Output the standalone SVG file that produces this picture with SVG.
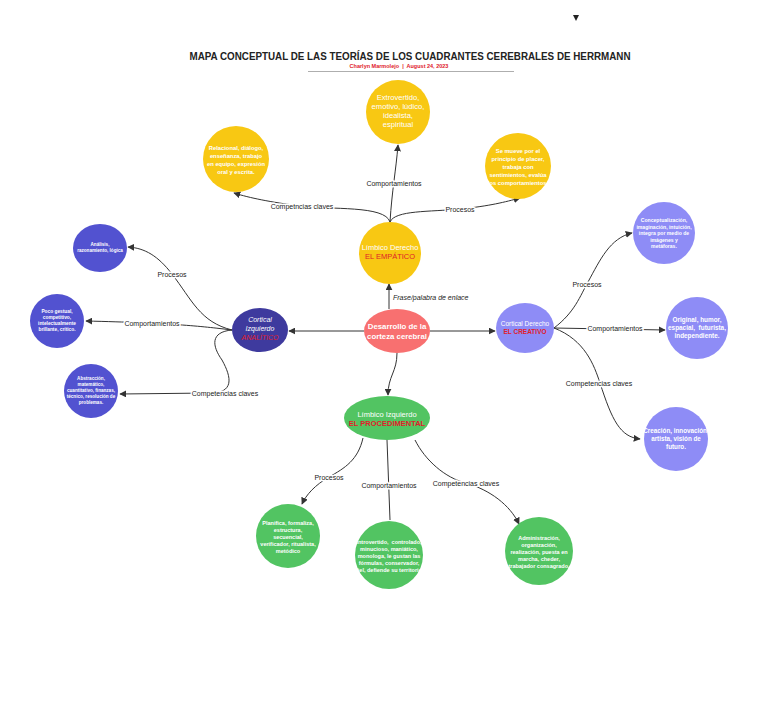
<svg xmlns="http://www.w3.org/2000/svg" width="768" height="704" viewBox="0 0 768 704">
<defs>
<marker id="ar" viewBox="0 0 10 10" refX="9" refY="5" markerWidth="7" markerHeight="7" orient="auto" markerUnits="userSpaceOnUse">
<path d="M0,0 L10,5 L0,10 z" fill="#333"/>
</marker>
</defs>
<style>
text{font-family:"Liberation Sans",Arial,sans-serif;text-anchor:middle}
.c{fill:none;stroke:#333;stroke-width:1}
.lbl{font-size:7px;fill:#222;stroke:#fff;stroke-width:3px;paint-order:stroke;stroke-linejoin:round}
.w{fill:#fff}
.b{font-weight:bold}
.r{fill:#e0202a}
.yel{fill:#F8C813}
.blu{fill:#5252D0}
.dblu{fill:#3E3A9E}
.pur{fill:#8E8CF6}
.grn{fill:#52C462}
.red{fill:#F87070}
</style>
<rect width="768" height="704" fill="#fff"/>
<path d="M573 15 L579 15 L576 21 z" fill="#222"/>
<g id="title">
<text x="410" y="60" font-family="DejaVu Sans, sans-serif" font-weight="bold" font-size="10.5" fill="#222" textLength="441" lengthAdjust="spacingAndGlyphs">MAPA CONCEPTUAL DE LAS TEORÍAS DE LOS CUADRANTES CEREBRALES DE HERRMANN</text>
<text x="399" y="68" font-size="5.5" font-weight="bold" fill="#e0202a" xml:space="preserve">Charlyn Marmolejo  |  August 24, 2023</text>
<line x1="308" y1="71.5" x2="514" y2="71.5" stroke="#999" stroke-width="0.8"/>
</g>
<g id="connectors">
<path class="c" d="M389 309 L389 284" marker-end="url(#ar)"/>
<path class="c" d="M364 331 L289 331" marker-end="url(#ar)"/>
<path class="c" d="M430 331 L495 331" marker-end="url(#ar)"/>
<path class="c" d="M397 353 C397 372 388 376 388 395" marker-end="url(#ar)"/>
<path class="c" d="M390 222 C392 190 396 170 398 145" marker-end="url(#ar)"/>
<path class="c" d="M390 222 C385 205 330 210 300 206 C270 202 250 198 234 193" marker-end="url(#ar)"/>
<path class="c" d="M390 222 C395 210 430 212 460 209 C490 206 505 202 520 198" marker-end="url(#ar)"/>
<path class="c" d="M232 330 C200 322 192 300 172 274 C158 256 145 248 128 247" marker-end="url(#ar)"/>
<path class="c" d="M232 330 C200 326 170 323 86 321" marker-end="url(#ar)"/>
<path class="c" d="M232 330 C210 332 212 346 222 360 C232 378 234 393 210 393 L120 394" marker-end="url(#ar)"/>
<path class="c" d="M554 328 C575 312 580 296 588 282 C600 260 610 238 632 233" marker-end="url(#ar)"/>
<path class="c" d="M554 328 L665 330" marker-end="url(#ar)"/>
<path class="c" d="M554 328 C585 340 594 365 600 383 C612 420 620 437 640 439" marker-end="url(#ar)"/>
<path class="c" d="M363 438 C358 460 345 468 329 477 C315 485 306 495 302 504" marker-end="url(#ar)"/>
<path class="c" d="M387 440 L390 520"/>
<path class="c" d="M415 440 C425 460 445 478 466 483 C490 490 510 505 519 524" marker-end="url(#ar)"/>
<text class="lbl" x="393" y="300" font-style="italic" style="text-anchor:start" font-size="6.5">Frase/palabra de enlace</text>
<text class="lbl" x="394" y="186">Comportamientos</text>
<text class="lbl" x="302" y="209">Competncias claves</text>
<text class="lbl" x="460" y="212">Procesos</text>
<text class="lbl" x="172" y="277">Procesos</text>
<text class="lbl" x="152" y="326">Comportamientos</text>
<text class="lbl" x="225" y="396">Competencias claves</text>
<text class="lbl" x="587" y="287">Procesos</text>
<text class="lbl" x="615" y="331">Comportamientos</text>
<text class="lbl" x="599" y="386">Competencias claves</text>
<text class="lbl" x="329" y="480">Procesos</text>
<text class="lbl" x="389" y="488">Comportamientos</text>
<text class="lbl" x="466" y="486">Competencias claves</text>
</g>
<g id="n-center">
<ellipse class="red" cx="397" cy="331" rx="33" ry="22"/>
<text class="w b" x="397" y="329" font-size="7.8">Desarrollo de la</text>
<text class="w b" x="397" y="339" font-size="7.8">corteza cerebral</text>
</g>
<g id="n-limbico-derecho">
<circle class="yel" cx="390" cy="253" r="31"/>
<text class="w" x="390" y="250" font-size="7.5">Límbico Derecho</text>
<text class="r" x="390" y="259" font-size="7.5">EL EMPÁTICO</text>
</g>
<g id="n-extrovertido">
<circle class="yel" cx="398" cy="112" r="32"/>
<text class="w" x="398" y="100" font-size="7.6">Extrovertido,</text>
<text class="w" x="398" y="109" font-size="7.6">emotivo, lúdico,</text>
<text class="w" x="398" y="118" font-size="7.6">idealista,</text>
<text class="w" x="398" y="127" font-size="7.6">espiritual</text>
</g>
<g id="n-relacional">
<circle class="yel" cx="236" cy="159" r="33"/>
<text class="w b" x="236" y="150" font-size="5.8">Relacional, diálogo,</text>
<text class="w b" x="236" y="158" font-size="5.8">enseñanza, trabajo</text>
<text class="w b" x="236" y="166" font-size="5.8">en equipo, expresión</text>
<text class="w b" x="236" y="174" font-size="5.8">oral y escrita.</text>
</g>
<g id="n-semueve">
<circle class="yel" cx="518" cy="166" r="33"/>
<text class="w b" x="518" y="153" font-size="5.8">Se mueve por el</text>
<text class="w b" x="518" y="161" font-size="5.8">principio de placer,</text>
<text class="w b" x="518" y="169" font-size="5.8">trabaja con</text>
<text class="w b" x="518" y="177" font-size="5.8">sentimientos, evalúa</text>
<text class="w b" x="518" y="185" font-size="5.8">los comportamientos.</text>
</g>
<g id="n-cortical-izquierdo">
<ellipse class="dblu" cx="260" cy="330" rx="28" ry="22"/>
<text class="w" x="260" y="322" font-size="7" font-style="italic">Cortical</text>
<text class="w" x="260" y="331" font-size="7" font-style="italic">Izquierdo</text>
<text class="r" x="260" y="340" font-size="7" font-style="italic">ANALÍTICO</text>
</g>
<g id="n-analisis">
<ellipse class="blu" cx="100" cy="248" rx="27" ry="24"/>
<text class="w b" x="100" y="246" font-size="4.6">Análisis,</text>
<text class="w b" x="100" y="252" font-size="4.6">razonamiento, lógica</text>
</g>
<g id="n-poco">
<circle class="blu" cx="57" cy="321" r="27"/>
<text class="w b" x="57" y="313" font-size="4.8">Poco gestual,</text>
<text class="w b" x="57" y="319" font-size="4.8">competitivo,</text>
<text class="w b" x="57" y="325" font-size="4.8">intelectualmente</text>
<text class="w b" x="57" y="331" font-size="4.8">brillante, crítico.</text>
</g>
<g id="n-abstraccion">
<circle class="blu" cx="91" cy="391" r="27"/>
<text class="w b" x="91" y="380" font-size="4.6">Abstracción,</text>
<text class="w b" x="91" y="386" font-size="4.6">matemático,</text>
<text class="w b" x="91" y="392" font-size="4.6">cuantitativo, finanzas,</text>
<text class="w b" x="91" y="398" font-size="4.6">técnico, resolución de</text>
<text class="w b" x="91" y="404" font-size="4.6">problemas.</text>
</g>
<g id="n-cortical-derecho">
<ellipse class="pur" cx="525" cy="328" rx="29" ry="25"/>
<text class="w" x="525" y="326" font-size="6.5">Cortical Derecho</text>
<text class="r b" x="525" y="334" font-size="6.5">EL CREATIVO</text>
</g>
<g id="n-conceptualizacion">
<circle class="pur" cx="664" cy="233" r="31"/>
<text class="w b" x="664" y="222" font-size="5.1">Conceptualización,</text>
<text class="w b" x="664" y="228.5" font-size="5.1">imaginación, intuición,</text>
<text class="w b" x="664" y="235" font-size="5.1">integra por medio de</text>
<text class="w b" x="664" y="241.5" font-size="5.1">imágenes y</text>
<text class="w b" x="664" y="248" font-size="5.1">metáforas.</text>
</g>
<g id="n-original">
<circle class="pur" cx="697" cy="328" r="31"/>
<text class="w b" x="697" y="322" font-size="6.4">Original, humor,</text>
<text class="w b" x="697" y="330" font-size="6.4" xml:space="preserve">espacial,  futurista,</text>
<text class="w b" x="697" y="338" font-size="6.4">independiente.</text>
</g>
<g id="n-creacion">
<circle class="pur" cx="676" cy="439" r="32"/>
<text class="w b" x="676" y="433" font-size="6.3">Creación, innovación,</text>
<text class="w b" x="676" y="441" font-size="6.3">artista, visión de</text>
<text class="w b" x="676" y="449" font-size="6.3">futuro.</text>
</g>
<g id="n-limbico-izquierdo">
<ellipse class="grn" cx="387" cy="418" rx="43" ry="22"/>
<text class="w" x="387" y="417" font-size="7.5">Límbico Izquierdo</text>
<text class="r b" x="387" y="426" font-size="7.5">EL PROCEDIMENTAL</text>
</g>
<g id="n-planifica">
<circle class="grn" cx="288" cy="536" r="32"/>
<text class="w b" x="288" y="525" font-size="5.5">Planifica, formaliza,</text>
<text class="w b" x="288" y="532" font-size="5.5">estructura,</text>
<text class="w b" x="288" y="539" font-size="5.5">secuencial,</text>
<text class="w b" x="288" y="546" font-size="5.5">verificador, ritualista,</text>
<text class="w b" x="288" y="553" font-size="5.5">metódico</text>
</g>
<g id="n-introvertido">
<circle class="grn" cx="389" cy="555" r="34"/>
<text class="w b" x="389" y="544" font-size="5.5" xml:space="preserve">Introvertido,  controlado,</text>
<text class="w b" x="389" y="551" font-size="5.5">minucioso, maniático,</text>
<text class="w b" x="389" y="558" font-size="5.5">monologa, le gustan las</text>
<text class="w b" x="389" y="565" font-size="5.5">fórmulas, conservador,</text>
<text class="w b" x="389" y="572" font-size="5.5">fiel, defiende su territorio</text>
</g>
<g id="n-administracion">
<circle class="grn" cx="539" cy="551" r="34"/>
<text class="w b" x="539" y="540" font-size="5.5">Administración,</text>
<text class="w b" x="539" y="547" font-size="5.5">organización,</text>
<text class="w b" x="539" y="554" font-size="5.5">realización, puesta en</text>
<text class="w b" x="539" y="561" font-size="5.5">marcha, cheder,</text>
<text class="w b" x="539" y="568" font-size="5.5">trabajador consagrado.</text>
</g>
</svg>
